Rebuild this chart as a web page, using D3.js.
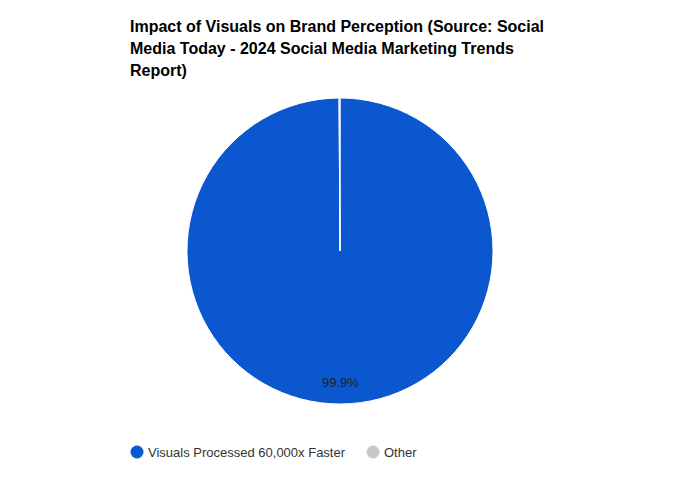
<!DOCTYPE html>
<html>
<head>
<meta charset="utf-8">
<script src="https://cdn.jsdelivr.net/npm/d3@7"></script>
<style>
  body { margin: 0; background: #fff; }
  svg { display: block; font-family: "Liberation Sans", Arial, sans-serif; }
</style>
</head>
<body>
<svg id="chart" width="680" height="500"></svg>
<script>
const titleLines = ["Impact of Visuals on Brand Perception (Source: Social", "Media Today - 2024 Social Media Marketing Trends", "Report)"];
const categories = ["Visuals Processed 60,000x Faster", "Other"];
const values = [99.9, 0.1];
const colors = ["#0b57d0", "#c8c8c8"];

const svg = d3.select("#chart");
const cx = 340, cy = 251, r = 153;

svg.append("g").selectAll("text").data(titleLines).join("text")
  .attr("x", 130).attr("y", (d, i) => 32 + i * 22)
  .attr("font-size", 16).attr("font-weight", "bold").attr("fill", "#000")
  .text(d => d);

const data = categories.map((c, i) => ({ name: c, value: values[i], color: colors[i] }));
const pie = d3.pie().value(d => d.value).sort(null);
const arcs = pie(data);
const arc = d3.arc().innerRadius(0).outerRadius(r);
const g = svg.append("g").attr("transform", `translate(${cx},${cy})`);
g.selectAll("path").data(arcs).join("path")
  .attr("d", arc).attr("fill", d => d.data.color)
  .attr("stroke", "#fff").attr("stroke-width", 1);

const labelArc = d3.arc().innerRadius(r * 0.86).outerRadius(r * 0.86);
g.selectAll("text").data(arcs.filter(d => d.data.value > 1)).join("text")
  .attr("transform", d => `translate(${labelArc.centroid(d)})`)
  .attr("text-anchor", "middle").attr("dy", "0.35em")
  .attr("font-size", 13).attr("fill", "#222")
  .text(d => d3.format(".1f")(d.data.value) + "%");

const legendX = [137, 373];
const lg = svg.append("g").selectAll("g").data(data).join("g")
  .attr("transform", (d, i) => `translate(${legendX[i]},452)`);
lg.append("circle").attr("r", 6.5).attr("fill", d => d.color);
lg.append("text").attr("x", 11).attr("dy", "0.35em")
  .attr("font-size", 13).attr("fill", "#333").text(d => d.name);
</script>
</body>
</html>
